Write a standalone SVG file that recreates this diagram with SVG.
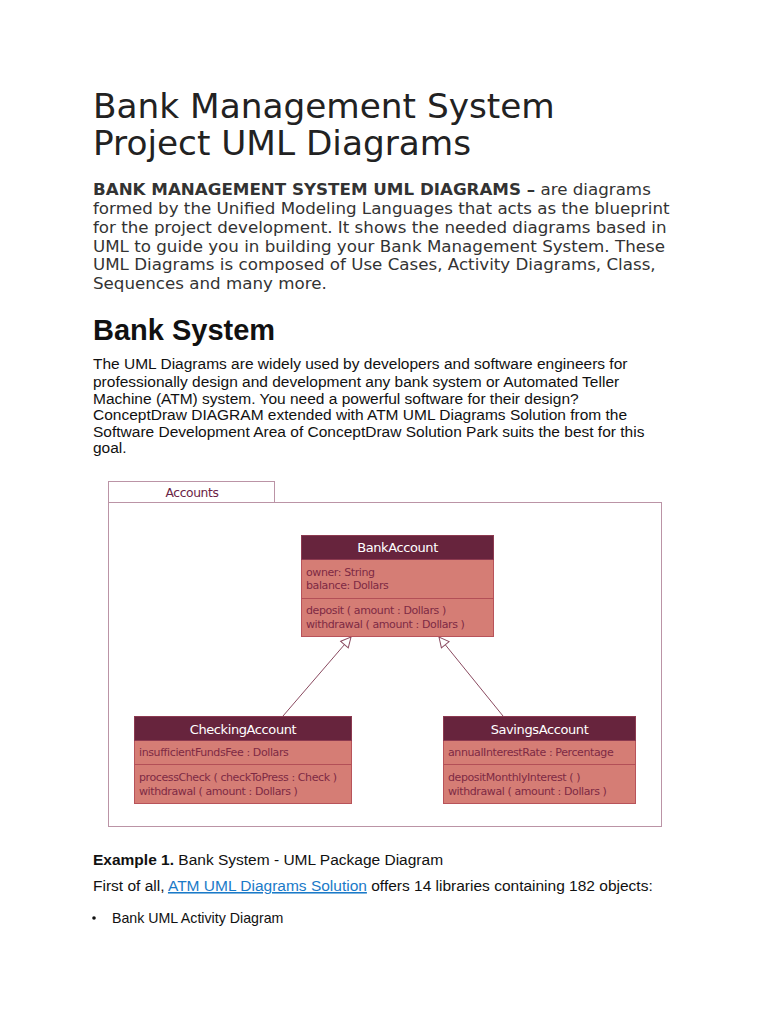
<svg xmlns="http://www.w3.org/2000/svg" width="768" height="1024" viewBox="0 0 768 1024">
<defs>
<style>
.h1{font-family:"DejaVu Sans",sans-serif;font-size:34.3px;fill:#222}
.p1{font-family:"DejaVu Sans",sans-serif;font-size:16.7px;fill:#333}
.h2{font-family:"Liberation Sans",Arial,sans-serif;font-size:29px;font-weight:bold;fill:#111}
.p2{font-family:"Liberation Sans",Arial,sans-serif;font-size:15.5px;fill:#111}
.li{font-family:"Liberation Sans",Arial,sans-serif;font-size:14.2px;fill:#111}
.hdr{fill:#67243d;stroke:#8c3a50;stroke-width:1}
.body{fill:#d57d75;stroke:#b8535a;stroke-width:1}
.sep{stroke:#b34f57;stroke-width:1}
.ht{font-family:"DejaVu Sans",Verdana,sans-serif;font-size:13px;fill:#fff;text-anchor:middle;letter-spacing:-0.4px}
.bt{font-family:"DejaVu Sans",Verdana,sans-serif;font-size:11px;fill:#7e2a44;letter-spacing:-0.4px}
.pkg{fill:#fff;stroke:#bb94a6;stroke-width:1}
.conn{stroke:#8a4a60;stroke-width:1;fill:none}
</style>
<marker id="gen" viewBox="0 0 12 12" refX="11" refY="6" markerWidth="12" markerHeight="12" markerUnits="userSpaceOnUse" orient="auto">
<path d="M1,1 L11,6 L1,11 Z" fill="#fff" stroke="#8a4a60" stroke-width="1"/>
</marker>
</defs>
<rect width="768" height="1024" fill="#fff"/>

<text class="h1" x="93" y="118">Bank Management System</text>
<text class="h1" x="93" y="155">Project UML Diagrams</text>

<text class="p1" x="93" y="195"><tspan font-weight="bold">BANK MANAGEMENT SYSTEM UML DIAGRAMS –</tspan> are diagrams</text>
<text class="p1" x="93" y="214">formed by the Unified Modeling Languages that acts as the blueprint</text>
<text class="p1" x="93" y="233">for the project development. It shows the needed diagrams based in</text>
<text class="p1" x="93" y="252">UML to guide you in building your Bank Management System. These</text>
<text class="p1" x="93" y="270">UML Diagrams is composed of Use Cases, Activity Diagrams, Class,</text>
<text class="p1" x="93" y="289">Sequences and many more.</text>

<text class="h2" x="93" y="340">Bank System</text>
<text class="p2" x="93" y="369">The UML Diagrams are widely used by developers and software engineers for</text>
<text class="p2" x="93" y="387">professionally design and development any bank system or Automated Teller</text>
<text class="p2" x="93" y="404">Machine (ATM) system. You need a powerful software for their design?</text>
<text class="p2" x="93" y="420">ConceptDraw DIAGRAM extended with ATM UML Diagrams Solution from the</text>
<text class="p2" x="93" y="437">Software Development Area of ConceptDraw Solution Park suits the best for this</text>
<text class="p2" x="93" y="453">goal.</text>

<g id="package-accounts">
<rect class="pkg" x="108.5" y="481.5" width="166" height="21"/>
<rect class="pkg" x="108.5" y="502.5" width="553" height="324"/>
<text x="192" y="497" font-family="DejaVu Sans,Verdana,sans-serif" font-size="12.3px" fill="#6b2345" text-anchor="middle" letter-spacing="-0.4">Accounts</text>
</g>

<g id="connectors">
<line class="conn" x1="283" y1="716" x2="351" y2="637" marker-end="url(#gen)"/>
<line class="conn" x1="503" y1="716" x2="439" y2="637" marker-end="url(#gen)"/>
</g>

<g id="BankAccount">
<rect class="body" x="301.5" y="535.5" width="192" height="101"/>
<rect class="hdr" x="301.5" y="535.5" width="192" height="24"/>
<line class="sep" x1="301.5" y1="598.5" x2="493.5" y2="598.5"/>
<text class="ht" x="397.5" y="552">BankAccount</text>
<text class="bt" x="306" y="576">owner: String</text>
<text class="bt" x="306" y="589">balance: Dollars</text>
<text class="bt" x="306" y="614">deposit ( amount : Dollars )</text>
<text class="bt" x="306" y="628">withdrawal ( amount : Dollars )</text>
</g>

<g id="CheckingAccount">
<rect class="body" x="134.5" y="716.5" width="217" height="87"/>
<rect class="hdr" x="134.5" y="716.5" width="217" height="24"/>
<line class="sep" x1="134.5" y1="764.5" x2="351.5" y2="764.5"/>
<text class="ht" x="243" y="734">CheckingAccount</text>
<text class="bt" x="139" y="756">insufficientFundsFee : Dollars</text>
<text class="bt" x="139" y="781">processCheck ( checkToPress : Check )</text>
<text class="bt" x="139" y="795">withdrawal ( amount : Dollars )</text>
</g>

<g id="SavingsAccount">
<rect class="body" x="443.5" y="716.5" width="192" height="87"/>
<rect class="hdr" x="443.5" y="716.5" width="192" height="24"/>
<line class="sep" x1="443.5" y1="764.5" x2="635.5" y2="764.5"/>
<text class="ht" x="539.5" y="734">SavingsAccount</text>
<text class="bt" x="448" y="756">annualInterestRate : Percentage</text>
<text class="bt" x="448" y="781">depositMonthlyInterest (  )</text>
<text class="bt" x="448" y="795">withdrawal ( amount : Dollars )</text>
</g>

<text class="p2" x="93" y="865"><tspan font-weight="bold">Example 1.</tspan> Bank System - UML Package Diagram</text>
<text class="p2" x="93" y="891">First of all, <tspan fill="#1a7ac8" text-decoration="underline">ATM UML Diagrams Solution</tspan> offers 14 libraries containing 182 objects:</text>
<circle cx="94" cy="918" r="1.8" fill="#111"/>
<text class="li" x="112" y="923">Bank UML Activity Diagram</text>
</svg>
